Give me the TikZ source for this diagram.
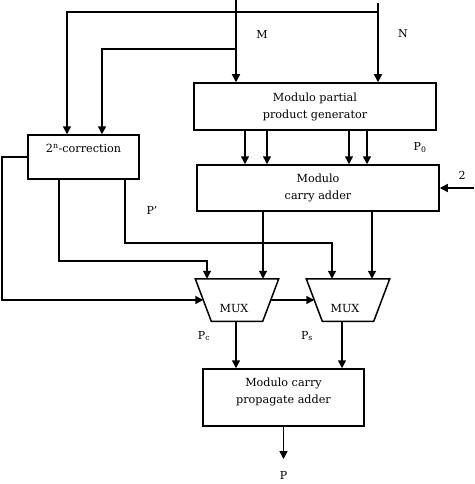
\documentclass[tikz,border=0pt]{standalone}
\usepackage{fontspec}
\setmainfont{DejaVu Serif}
\usetikzlibrary{arrows.meta,calc}
\begin{document}
\begin{tikzpicture}[x=1pt,y=-1pt, line width=1.5pt,
 box/.style={draw, rectangle, inner sep=0pt, align=center, font=\fontsize{11.2}{17}\selectfont},
 muxframe/.style={rectangle, minimum width=82pt, minimum height=41pt, inner sep=0pt},
 txt/.style={font=\fontsize{11.2}{17}\selectfont, inner sep=0pt, align=center},
 lbl/.style={font=\fontsize{11}{13}\selectfont, inner sep=0pt},
 arr/.style={-{Triangle[length=8pt,width=8pt]}}]
\useasboundingbox (0,0) rectangle (474,484);
\node[box, minimum width=242pt, minimum height=47pt] (ppg) at (315,106.5) {Modulo partial\\product generator};
\node[box, minimum width=111pt, minimum height=44pt] (corr) at (83.5,157) {};
\node[txt] (corrt) at (83.5,148) {2\textsuperscript{n}-correction};
\node[box, minimum width=242pt, minimum height=46pt] (mca) at (318,188) {Modulo\\carry adder};
\node[muxframe] (mux1) at (237,300) {};
\node[muxframe] (mux2) at (348,300) {};
\foreach \m in {mux1,mux2}{
  \draw (\m.north west) -- (\m.north east) -- ($(\m.south east)+(-16,0)$) -- ($(\m.south west)+(16,0)$) -- cycle;
}
\node[txt] (mux1t) at (234,308) {MUX};
\node[txt] (mux2t) at (345,308) {MUX};
\node[box, minimum width=161pt, minimum height=57pt] (cpa) at (283.5,397.5) {};
\node[txt] (cpat) at (283.5,392) {Modulo carry\\propagate adder};
\coordinate (Min) at (236,0);
\coordinate (Nin) at (378,3);
\coordinate (Nbr) at (378,12);
\coordinate (Mbr) at (236,49);
\coordinate (Rin) at (474,188);
\coordinate (Pout) at (283.5,459);
\coordinate (Lc) at (2,0);
\coordinate (mux1in) at ($(mux1.west)+(8,0)$);
\coordinate (mux2in) at ($(mux2.west)+(8,0)$);
\coordinate (mux1out) at ($(mux1.east)+(-8,0)$);
\draw[arr] (Min) -- (Min |- ppg.north);
\draw[arr] (Nin) -- (Nin |- ppg.north);
\draw[arr] (Nbr) -| (67,0 |- corr.north);
\draw[arr] (Mbr) -| (102,0 |- corr.north);
\foreach \xx in {245,267,349,367}{\draw[arr] (\xx,0 |- ppg.south) -- (\xx,0 |- mca.north);}
\draw[arr] (Rin) -- (mca.east);
\draw[arr] (corr.west) -- (Lc |- corr.west) -- (Lc |- mux1in) -- (mux1in);
\draw[arr] (59,0 |- corr.south) |- (207,261) -- (207,0 |- mux1.north);
\draw[arr] (125,0 |- corr.south) |- (332,243) -- (332,0 |- mux2.north);
\draw[arr] (263,0 |- mca.south) -- (263,0 |- mux1.north);
\draw[arr] (372,0 |- mca.south) -- (372,0 |- mux2.north);
\draw[arr] (mux1out) -- (mux2in);
\draw[arr] (236,0 |- mux1.south) -- (236,0 |- cpa.north);
\draw[arr] (342,0 |- mux2.south) -- (342,0 |- cpa.north);
\draw[arr] (cpa.south) -- (Pout);
\node[lbl] (lM) at (262,34) {M};
\node[lbl] (lN) at (403,34) {N};
\node[lbl] (lP0) at (420,148) {P\textsubscript{0}};
\node[lbl] (l2) at (462,175) {2};
\node[lbl] (lPp) at (152,210) {P’};
\node[lbl] (lPc) at (204,336) {P\textsubscript{c}};
\node[lbl] (lPs) at (307,336) {P\textsubscript{s}};
\node[lbl] (lP) at (283.5,475) {P};
\end{tikzpicture}
\end{document}
